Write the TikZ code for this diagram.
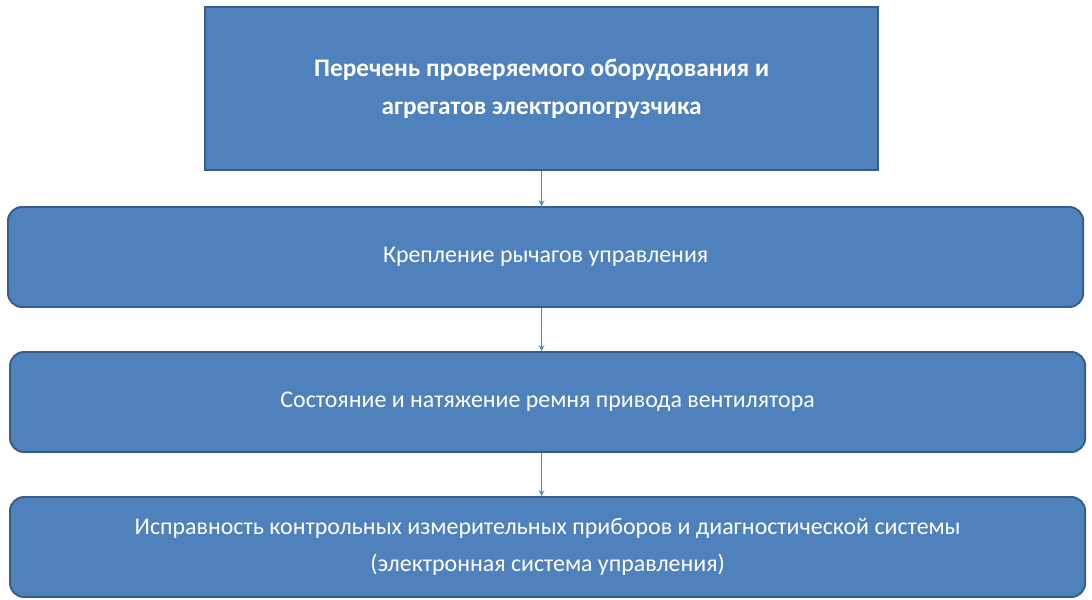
\documentclass[tikz,border=0pt]{standalone}
\usepackage{fontspec}
\setmainfont{Carlito}
\usetikzlibrary{positioning}
\definecolor{boxfill}{HTML}{4F81BD}
\definecolor{boxline}{HTML}{385D8A}
\begin{document}
\begin{tikzpicture}[
		stepbox/.style={draw=boxline, line width=1.4pt, fill=boxfill, text=white,
			align=center, font=\fontsize{17}{26}\selectfont},
		roundbox/.style={stepbox, rounded corners=10pt, minimum width=26.88cm, minimum height=2.5cm},
		link/.style={->, draw=boxfill, line width=0.8pt, >=stealth}
		]
		\useasboundingbox (0,0) rectangle (27.3,-14.975);
		
		\node[stepbox, minimum width=16.83cm, minimum height=4.08cm, font=\bfseries\fontsize{18}{27}\selectfont] (list) at (13.54,-2.21)
			{Перечень проверяемого оборудования и\\агрегатов электропогрузчика};
		\node[roundbox] (levers) at (13.64,-6.425) {Крепление рычагов управления};
		\node[roundbox] (belt) at (13.69,-10.05) {Состояние и натяжение ремня привода вентилятора};
		\node[roundbox] (gauges) at (13.69,-13.675)
			{Исправность контрольных измерительных приборов и диагностической системы\\(электронная система управления)};
		
		%arrows
		\draw[link] (list.south) -- (list.south |- levers.north);
		\draw[link] (levers.south -| list.south) -- (list.south |- belt.north);
		\draw[link] ([xshift=-0.15cm]belt.south) -- ([xshift=-0.15cm]belt.south |- gauges.north);
	\end{tikzpicture}
\end{document}
